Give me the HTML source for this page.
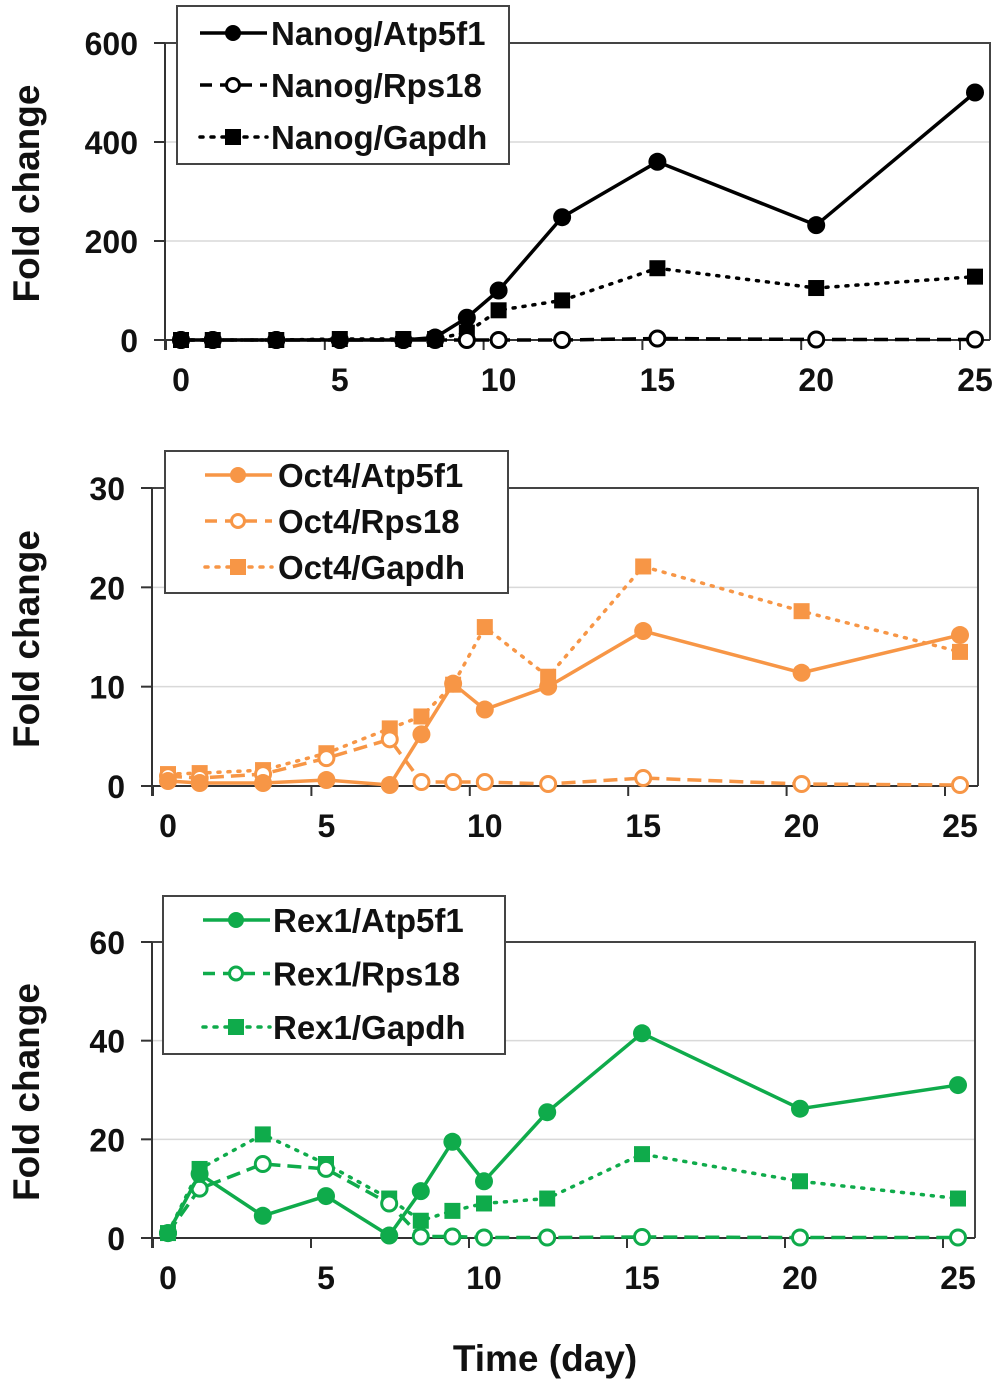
<!DOCTYPE html>
<html><head><meta charset="utf-8">
<style>
html,body{margin:0;padding:0;background:#fff;}
svg{display:block;font-family:"Liberation Sans",Arial,sans-serif;font-weight:bold;}
</style></head>
<body>
<svg id="chart" width="1000" height="1384" viewBox="0 0 1000 1384" xmlns="http://www.w3.org/2000/svg"></svg>
<script>
const days = [0,1,3,5,7,8,9,10,12,15,20,25];
const xTicks = [0,5,10,15,20,25];
const nanogAtp = [0,0,0,0,0,5,45,100,248,360,232,500];
const nanogRps = [0,0,0,0,0,0,0,0,0,3,1,1];
const nanogGapdh = [0,0,0,2,2,2,15,60,80,145,105,128];
const nanogYTicks = [0,200,400,600];
const oct4Atp = [0.5,0.3,0.3,0.6,0.1,5.2,10.3,7.7,10,15.6,11.4,15.2];
const oct4Rps = [1,0.8,1.2,2.8,4.7,0.4,0.4,0.4,0.2,0.8,0.2,0.1];
const oct4Gapdh = [1.2,1.3,1.6,3.3,5.8,7,10.2,16,11,22.1,17.6,13.5];
const oct4YTicks = [0,10,20,30];
const rex1Atp = [1,13,4.5,8.5,0.5,9.5,19.5,11.5,25.5,41.5,26.2,31];
const rex1Rps = [1,10,15,14,7,0.3,0.3,0.1,0.1,0.2,0.1,0.1];
const rex1Gapdh = [1,14,21,15,8,3.5,5.5,7,8,17,11.5,8];
const rex1YTicks = [0,20,40,60];

const NS='http://www.w3.org/2000/svg';
const svg=document.getElementById('chart');
function mk(tag,attrs,parent){const e=document.createElementNS(NS,tag);for(const k in attrs)e.setAttribute(k,attrs[k]);(parent||svg).appendChild(e);return e;}

const panels=[
 {name:'nanog',gene:'Nanog',color:'#000',ax:165,x0:181,x25:975,top:43,bot:340,right:990,ymax:600,yt:nanogYTicks,
  s:[nanogAtp,nanogRps,nanogGapdh],leg:[177,6,332,158],ls:23,tx:94,ly0:27,lsp:52},
 {name:'oct4',gene:'Oct4',color:'#f79646',ax:152,x0:168,x25:960,top:488,bot:786,right:978,ymax:30,yt:oct4YTicks,
  s:[oct4Atp,oct4Rps,oct4Gapdh],leg:[165,451,343,142],ls:40,tx:113,ly0:24,lsp:46},
 {name:'rex1',gene:'Rex1',color:'#0fab4b',ax:152,x0:168,x25:958,top:942,bot:1238,right:975,ymax:60,yt:rex1YTicks,
  s:[rex1Atp,rex1Rps,rex1Gapdh],leg:[163,896,342,158],ls:40,tx:110,ly0:24,lsp:53.5}
];
const styles=[{dash:'none',mk:'dot',lab:'Atp5f1'},{dash:'14 7',mk:'open',lab:'Rps18'},{dash:'2 8',mk:'sq',lab:'Gapdh'}];

function marker(g,type,x,y,color,big){
  const r=big?9:8;
  let e;
  if(type==='dot') e=mk('circle',{cx:x,cy:y,r:r,fill:color},g);
  else if(type==='open') e=mk('circle',{cx:x,cy:y,r:r-1.5,fill:'#fff',stroke:color,'stroke-width':3},g);
  else e=mk('rect',{x:x-8,y:y-8,width:16,height:16,fill:color},g);
  return e;
}

panels.forEach(p=>{
  const g=mk('g',{});
  
  
  const X=d=>p.x0+(p.x25-p.x0)*d/25;
  const Y=v=>p.bot-(p.bot-p.top)*v/p.ymax;
  p.yt.forEach(v=>{
    if(v>0&&v<p.ymax){const gl=mk('line',{x1:p.ax,x2:p.right,y1:Y(v),y2:Y(v),stroke:'#d9d9d9','stroke-width':1.5},g);
      }
    mk('line',{x1:p.ax-11,x2:p.ax,y1:Y(v),y2:Y(v),stroke:'#333','stroke-width':2},g);
    const t=mk('text',{x:p.ax-27,y:Y(v)+12,'text-anchor':'end','font-size':32,fill:'#111'},g);
    t.textContent=v;
    
  });
  const fr=mk('path',{d:`M${p.ax} ${p.top}H${p.right}V${p.bot}`,fill:'none',stroke:'#444','stroke-width':2},g);
  
  const ya=mk('line',{x1:p.ax,x2:p.ax,y1:p.top,y2:p.bot+10,stroke:'#333','stroke-width':2},g);
  
  const xa=mk('line',{x1:p.ax,x2:p.right,y1:p.bot,y2:p.bot,stroke:'#333','stroke-width':2},g);
  
  xTicks.forEach(d=>{
    mk('line',{x1:X(d)-15,x2:X(d)-15,y1:p.bot,y2:p.bot+10,stroke:'#333','stroke-width':2},g);
    const t=mk('text',{x:X(d),y:p.bot+51,'text-anchor':'middle','font-size':32,fill:'#111'},g);
    t.textContent=d;
    
  });
  const yt=mk('text',{x:0,y:0,'text-anchor':'middle','font-size':37,fill:'#111',transform:`translate(39 ${(p.top+p.bot)/2+2}) rotate(-90)`},g);
  yt.textContent='Fold change';
  
  [2,1,0].forEach(i=>{
    const st=styles[i],vals=p.s[i];
    const sg=mk('g',{},g);
    
    
    const pts=vals.map((v,k)=>X(days[k])+','+Y(v)).join(' ');
    mk('polyline',{points:pts,fill:'none',stroke:p.color,'stroke-width':3.5,'stroke-dasharray':st.dash,'stroke-linecap':i===2?'round':'butt'},sg);
    vals.forEach((v,k)=>{
      const m=marker(sg,st.mk,X(days[k]),Y(v),p.color,true);
      
      
    });
  });
  const [lx,ly,lw,lh]=p.leg;
  const lg=mk('g',{},g);
  
  
  mk('rect',{x:lx,y:ly,width:lw,height:lh,fill:'#fff',stroke:'#444','stroke-width':2},lg);
  styles.forEach((st,i)=>{
    const cy=ly+p.ly0+i*p.lsp;
    const e=mk('g',{},lg);
    
    
    mk('line',{x1:lx+p.ls,x2:lx+p.ls+67,y1:cy,y2:cy,stroke:p.color,'stroke-width':3.5,'stroke-dasharray':st.dash==='none'?'none':(i===1?'12 8':'3 8'),'stroke-linecap':i===2?'round':'butt'},e);
    marker(e,st.mk,lx+p.ls+33,cy,p.color,false);
    const t=mk('text',{x:lx+p.tx,y:cy+12,'font-size':33,fill:'#111'},e);
    t.textContent=p.gene+'/'+st.lab;
  });
});
const xt=mk('text',{x:545,y:1371,'text-anchor':'middle','font-size':37,fill:'#111'});
xt.textContent='Time (day)';


</script>
</body></html>
